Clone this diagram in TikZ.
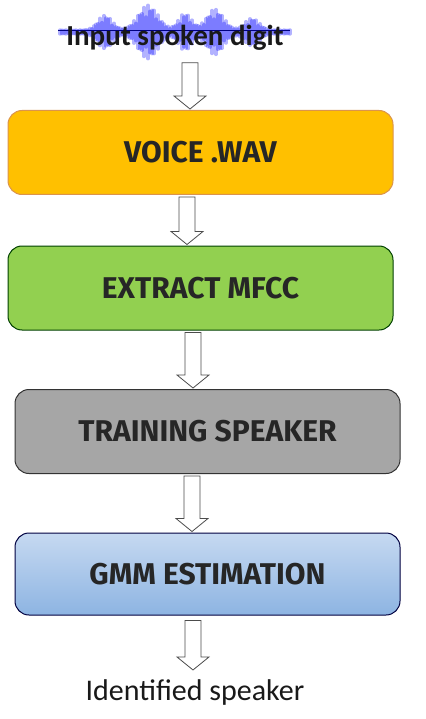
\documentclass[tikz,border=0pt]{standalone}
\usepackage{fontspec}
\setmainfont{Carlito}
\newfontfamily\stagefont{Fira Sans}
\usetikzlibrary{calc,positioning}
\definecolor{voiceyellow}{HTML}{FFC000}
\definecolor{mfccgreen}{HTML}{92D050}
\definecolor{traingray}{HTML}{A6A6A6}
\definecolor{gmmtop}{HTML}{C6D9F1}
\definecolor{gmmbottom}{HTML}{8DB4E2}

\begin{document}
\begin{tikzpicture}[x=1pt,y=-1pt,
    declare function={bump(\t,\c,\w,\h)=\h*exp(max(-((\t-\c)/\w)^2,-12));},
    stage/.style={draw, rectangle, rounded corners=14pt, minimum width=385pt, minimum height=84pt,
        line width=1pt, text=black!85, font=\stagefont\bfseries\fontsize{30}{36}\selectfont},
    label/.style={font=\fontsize{30}{36}\selectfont, inner sep=0pt, text=black!90},
    flow/.style={draw=black!70, fill=white, line width=0.8pt,
        to path={let \p1=(\tikztostart), \p2=(\tikztotarget) in
            (\x1-8pt,\y1-2pt) -- (\x1+8pt,\y1-2pt) -- (\x1+8pt,\y2+14pt) -- (\x1+16pt,\y2+14pt)
            -- (\x1,\y2+1pt) -- (\x1-16pt,\y2+14pt) -- (\x1-8pt,\y2+14pt) -- cycle}}]
    \useasboundingbox (0,0) rectangle (425,719);

    % waveform behind the input text
    \foreach \t in {60,62,...,290} {
        \pgfmathsetmacro\amp{(bump(\t,105,10,15) + bump(\t,148,14,25) + bump(\t,185,9,17)
            + bump(\t,215,12,21) + bump(\t,252,10,12) + 2)*(0.55+0.45*abs(sin(\t*37)))}
        \draw[blue, opacity=0.3, line width=3.5pt, line cap=round] (\t,32-\amp) -- (\t,32+\amp);
    }
    \draw[blue!50!black, line width=1pt] (58,31) -- (290,31);

    \node[label, font=\bfseries\fontsize{29}{34}\selectfont] (input) at (175,38) {Input spoken digit};

    \node[stage, fill=voiceyellow, draw=orange!80!black!70] (voice) at (200.5,152.5) {VOICE .WAV};
    \node[stage, fill=mfccgreen, draw=black!75!green] (mfcc) at (200.5,288) {EXTRACT MFCC};
    \node[stage, fill=traingray, draw=black!80] (train) at (207.5,431.5) {TRAINING SPEAKER};
    \node[stage, top color=gmmtop, bottom color=gmmbottom, draw=black!75!blue, minimum height=82pt] (gmm) at (207.5,574) {GMM ESTIMATION};

    \node[label] (output) at (195,692) {Identified speaker};

    \draw[flow] ([xshift=15pt,yshift=-10pt]input.south) to ([xshift=-10.5pt]voice.north);
    \draw[flow] ([xshift=-13.5pt]voice.south) to ([xshift=-13.5pt]mfcc.north);
    \draw[flow] ([xshift=-7.5pt]mfcc.south) to ([xshift=-7.5pt]train.north);
    \draw[flow] ([xshift=-15.5pt]train.south) to ([xshift=-15.5pt]gmm.north);
    \draw[flow] ([xshift=-14.5pt,yshift=-3pt]gmm.south) to ([xshift=-2pt,yshift=8pt]output.north);
\end{tikzpicture}
\end{document}
